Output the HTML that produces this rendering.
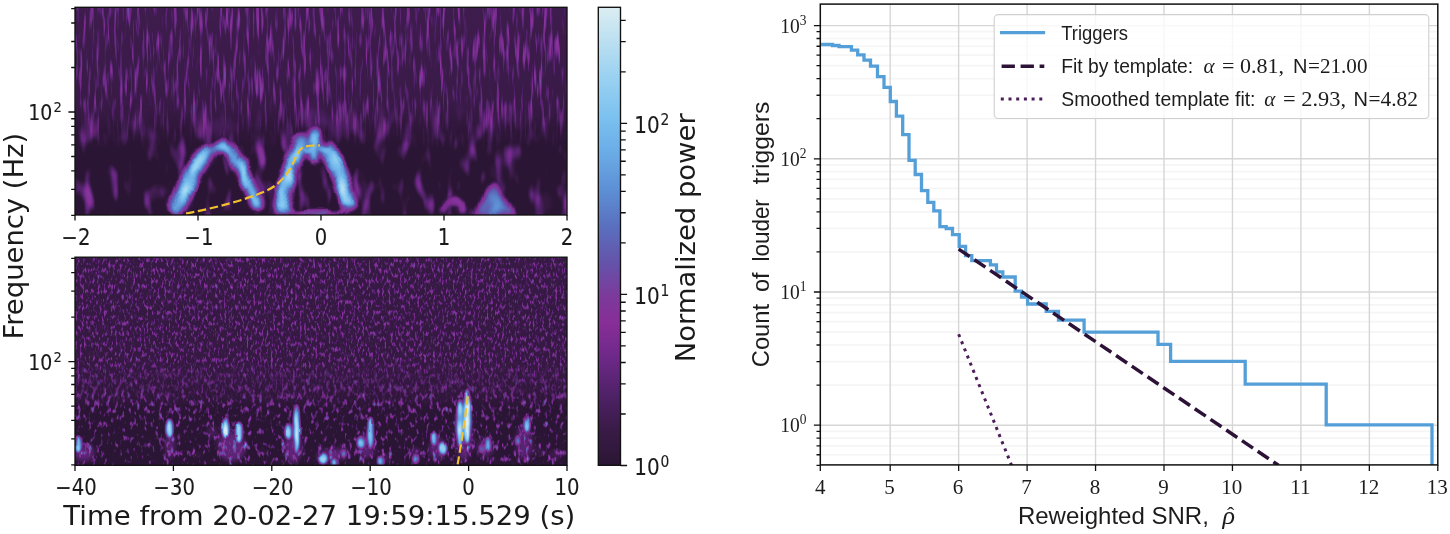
<!DOCTYPE html>
<html lang="en"><head><meta charset="utf-8"><title>Spectrograms and trigger fit</title>
<style>html,body{margin:0;padding:0;background:#fff;overflow:hidden}svg{display:block}</style></head>
<body>
<svg width="1450" height="534" viewBox="0 0 1450 534">
<defs>
<linearGradient id="gC" x1="0" y1="0" x2="0" y2="1"><stop offset="0.000" stop-color="#dbedf1"/><stop offset="0.070" stop-color="#bde0f1"/><stop offset="0.150" stop-color="#9bd2f1"/><stop offset="0.240" stop-color="#7cc1ef"/><stop offset="0.320" stop-color="#6aabe6"/><stop offset="0.400" stop-color="#5d8fd4"/><stop offset="0.480" stop-color="#5a6fbe"/><stop offset="0.560" stop-color="#6552a9"/><stop offset="0.630" stop-color="#7c3a9b"/><stop offset="0.690" stop-color="#872e97"/><stop offset="0.760" stop-color="#6f2989"/><stop offset="0.840" stop-color="#51226a"/><stop offset="0.920" stop-color="#3a1b48"/><stop offset="1.000" stop-color="#2b1634"/></linearGradient>
<filter id="fTU" x="0" y="0" width="1" height="1" filterUnits="objectBoundingBox" color-interpolation-filters="sRGB">
<feTurbulence type="fractalNoise" baseFrequency="0.3 0.03" numOctaves="2" seed="7" result="n"/>
<feColorMatrix in="n" type="matrix" values="0.92 0 0 0 -0.46  0.92 0 0 0 -0.46  0.92 0 0 0 -0.46  0 0 0 0 1" result="g"/>
<feComposite in="g" in2="SourceGraphic" operator="arithmetic" k1="0" k2="1" k3="1" k4="-0.15" result="s"/>
<feComponentTransfer in="s"><feFuncR type="table" tableValues="0.169 0.192 0.215 0.243 0.278 0.313 0.358 0.404 0.449 0.491 0.528 0.505 0.480 0.440 0.399 0.381 0.364 0.355 0.359 0.364 0.381 0.401 0.422 0.450 0.477 0.515 0.557 0.599 0.650 0.702 0.754 0.806 0.859"/><feFuncG type="table" tableValues="0.086 0.094 0.102 0.111 0.121 0.132 0.143 0.153 0.164 0.172 0.182 0.207 0.234 0.276 0.318 0.362 0.407 0.453 0.502 0.551 0.595 0.638 0.679 0.712 0.746 0.773 0.796 0.819 0.841 0.862 0.884 0.907 0.929"/><feFuncB type="table" tableValues="0.204 0.235 0.265 0.305 0.357 0.409 0.457 0.505 0.545 0.570 0.593 0.601 0.612 0.636 0.661 0.692 0.725 0.757 0.791 0.825 0.853 0.881 0.905 0.919 0.933 0.939 0.942 0.945 0.945 0.945 0.945 0.945 0.945"/><feFuncA type="linear" slope="0" intercept="1"/></feComponentTransfer>
</filter>
<filter id="fTL" x="0" y="0" width="1" height="1" filterUnits="objectBoundingBox" color-interpolation-filters="sRGB">
<feTurbulence type="fractalNoise" baseFrequency="0.075 0.028" numOctaves="2" seed="3" result="n"/>
<feColorMatrix in="n" type="matrix" values="1.15 0 0 0 -0.575  1.15 0 0 0 -0.575  1.15 0 0 0 -0.575  0 0 0 0 1" result="g"/>
<feComposite in="g" in2="SourceGraphic" operator="arithmetic" k1="0" k2="1" k3="1" k4="-0.15" result="s"/>
<feComponentTransfer in="s"><feFuncR type="table" tableValues="0.169 0.192 0.215 0.243 0.278 0.313 0.358 0.404 0.449 0.491 0.528 0.505 0.480 0.440 0.399 0.381 0.364 0.355 0.359 0.364 0.381 0.401 0.422 0.450 0.477 0.515 0.557 0.599 0.650 0.702 0.754 0.806 0.859"/><feFuncG type="table" tableValues="0.086 0.094 0.102 0.111 0.121 0.132 0.143 0.153 0.164 0.172 0.182 0.207 0.234 0.276 0.318 0.362 0.407 0.453 0.502 0.551 0.595 0.638 0.679 0.712 0.746 0.773 0.796 0.819 0.841 0.862 0.884 0.907 0.929"/><feFuncB type="table" tableValues="0.204 0.235 0.265 0.305 0.357 0.409 0.457 0.505 0.545 0.570 0.593 0.601 0.612 0.636 0.661 0.692 0.725 0.757 0.791 0.825 0.853 0.881 0.905 0.919 0.933 0.939 0.942 0.945 0.945 0.945 0.945 0.945 0.945"/><feFuncA type="linear" slope="0" intercept="1"/></feComponentTransfer>
</filter>
<filter id="fBU" x="0" y="0" width="1" height="1" filterUnits="objectBoundingBox" color-interpolation-filters="sRGB">
<feTurbulence type="fractalNoise" baseFrequency="0.45 0.19" numOctaves="2" seed="11" result="n"/>
<feColorMatrix in="n" type="matrix" values="1.0 0 0 0 -0.5  1.0 0 0 0 -0.5  1.0 0 0 0 -0.5  0 0 0 0 1" result="g"/>
<feComposite in="g" in2="SourceGraphic" operator="arithmetic" k1="0" k2="1" k3="1" k4="-0.15" result="s"/>
<feComponentTransfer in="s"><feFuncR type="table" tableValues="0.169 0.192 0.215 0.243 0.278 0.313 0.358 0.404 0.449 0.491 0.528 0.505 0.480 0.440 0.399 0.381 0.364 0.355 0.359 0.364 0.381 0.401 0.422 0.450 0.477 0.515 0.557 0.599 0.650 0.702 0.754 0.806 0.859"/><feFuncG type="table" tableValues="0.086 0.094 0.102 0.111 0.121 0.132 0.143 0.153 0.164 0.172 0.182 0.207 0.234 0.276 0.318 0.362 0.407 0.453 0.502 0.551 0.595 0.638 0.679 0.712 0.746 0.773 0.796 0.819 0.841 0.862 0.884 0.907 0.929"/><feFuncB type="table" tableValues="0.204 0.235 0.265 0.305 0.357 0.409 0.457 0.505 0.545 0.570 0.593 0.601 0.612 0.636 0.661 0.692 0.725 0.757 0.791 0.825 0.853 0.881 0.905 0.919 0.933 0.939 0.942 0.945 0.945 0.945 0.945 0.945 0.945"/><feFuncA type="linear" slope="0" intercept="1"/></feComponentTransfer>
</filter>
<filter id="fBL" x="0" y="0" width="1" height="1" filterUnits="objectBoundingBox" color-interpolation-filters="sRGB">
<feTurbulence type="fractalNoise" baseFrequency="0.27 0.14" numOctaves="2" seed="5" result="n"/>
<feColorMatrix in="n" type="matrix" values="1.45 0 0 0 -0.725  1.45 0 0 0 -0.725  1.45 0 0 0 -0.725  0 0 0 0 1" result="g"/>
<feComposite in="g" in2="SourceGraphic" operator="arithmetic" k1="0" k2="1" k3="1" k4="-0.15" result="s"/>
<feComponentTransfer in="s"><feFuncR type="table" tableValues="0.169 0.192 0.215 0.243 0.278 0.313 0.358 0.404 0.449 0.491 0.528 0.505 0.480 0.440 0.399 0.381 0.364 0.355 0.359 0.364 0.381 0.401 0.422 0.450 0.477 0.515 0.557 0.599 0.650 0.702 0.754 0.806 0.859"/><feFuncG type="table" tableValues="0.086 0.094 0.102 0.111 0.121 0.132 0.143 0.153 0.164 0.172 0.182 0.207 0.234 0.276 0.318 0.362 0.407 0.453 0.502 0.551 0.595 0.638 0.679 0.712 0.746 0.773 0.796 0.819 0.841 0.862 0.884 0.907 0.929"/><feFuncB type="table" tableValues="0.204 0.235 0.265 0.305 0.357 0.409 0.457 0.505 0.545 0.570 0.593 0.601 0.612 0.636 0.661 0.692 0.725 0.757 0.791 0.825 0.853 0.881 0.905 0.919 0.933 0.939 0.942 0.945 0.945 0.945 0.945 0.945 0.945"/><feFuncA type="linear" slope="0" intercept="1"/></feComponentTransfer>
</filter>
<linearGradient id="gTU" x1="0" y1="0" x2="0" y2="1"><stop offset="0" stop-color="#3e3e3e"/><stop offset="0.5" stop-color="#393939"/><stop offset="1" stop-color="#212121"/></linearGradient>
<linearGradient id="gTL" x1="0" y1="0" x2="0" y2="1"><stop offset="0.4" stop-color="#2e2e2e"/><stop offset="0.7" stop-color="#1f1f1f"/><stop offset="1" stop-color="#171717"/></linearGradient>
<linearGradient id="gBU" x1="0" y1="0" x2="0" y2="1"><stop offset="0" stop-color="#363636"/><stop offset="0.6" stop-color="#343434"/><stop offset="1" stop-color="#262626"/></linearGradient>
<linearGradient id="gBL" x1="0" y1="0" x2="0" y2="1"><stop offset="0.45" stop-color="#333333"/><stop offset="0.70" stop-color="#2b2b2b"/><stop offset="0.82" stop-color="#0f0f0f"/><stop offset="1" stop-color="#050505"/></linearGradient>
<linearGradient id="mTg" x1="0" y1="0" x2="0" y2="1"><stop offset="0.46" stop-color="#000"/><stop offset="0.68" stop-color="#fff"/></linearGradient>
<linearGradient id="mBg" x1="0" y1="0" x2="0" y2="1"><stop offset="0.5" stop-color="#000"/><stop offset="0.72" stop-color="#fff"/></linearGradient>
<mask id="mT" maskUnits="userSpaceOnUse" x="75.0" y="7.3" width="492.0" height="207.7"><rect x="75.0" y="7.3" width="492.0" height="207.7" fill="url(#mTg)"/></mask>
<mask id="mB" maskUnits="userSpaceOnUse" x="75.0" y="257.2" width="492.0" height="208.10000000000002"><rect x="75.0" y="257.2" width="492.0" height="208.10000000000002" fill="url(#mBg)"/></mask>
<filter id="b2" filterUnits="userSpaceOnUse" x="0" y="0" width="1450" height="534"><feGaussianBlur stdDeviation="2.2"/></filter>
<filter id="b3" filterUnits="userSpaceOnUse" x="0" y="0" width="1450" height="534"><feGaussianBlur stdDeviation="3.5"/></filter>
<filter id="b25" filterUnits="userSpaceOnUse" x="0" y="0" width="1450" height="534"><feGaussianBlur stdDeviation="2.7"/></filter>
<filter id="b15" filterUnits="userSpaceOnUse" x="0" y="0" width="1450" height="534"><feGaussianBlur stdDeviation="1.6"/></filter>
<filter id="b1" filterUnits="userSpaceOnUse" x="0" y="0" width="1450" height="534"><feGaussianBlur stdDeviation="1.1"/></filter>
<clipPath id="cT"><rect x="75.0" y="7.3" width="492.0" height="207.7"/></clipPath>
<clipPath id="cB"><rect x="75.0" y="257.2" width="492.0" height="208.10000000000002"/></clipPath>
<clipPath id="cR"><rect x="820.3" y="4.1" width="617.5" height="460.79999999999995"/></clipPath>
</defs>
<rect width="1450" height="534" fill="#fff"/>
<defs>
<filter id="fOT" filterUnits="userSpaceOnUse" x="75.0" y="7.3" width="492.0" height="207.7" color-interpolation-filters="sRGB">
<feTurbulence type="fractalNoise" baseFrequency="0.08 0.06" numOctaves="1" seed="21" result="n0"/>
<feColorMatrix in="n0" type="matrix" values="1 0 0 0 0  0 1 0 0 0  0 0 1 0 0  0 0 0 0 1" result="n"/>
<feDisplacementMap in="SourceGraphic" in2="n" scale="8" xChannelSelector="R" yChannelSelector="G" result="d"/>
<feColorMatrix in="d" type="matrix" values="0 0 0 1 0  0 0 0 1 0  0 0 0 1 0  0 0 0 0 1" result="s"/>
<feColorMatrix in="n" type="matrix" values="0 0 1 0 0  0 0 1 0 0  0 0 1 0 0  0 0 0 0 1" result="nb"/>
<feComposite in="s" in2="nb" operator="arithmetic" k1="0.7" k2="0.65" k3="0" k4="0" result="s2"/>
<feComponentTransfer in="s2" result="c"><feFuncR type="table" tableValues="0.169 0.192 0.215 0.243 0.278 0.313 0.358 0.404 0.449 0.491 0.528 0.505 0.480 0.440 0.399 0.381 0.364 0.355 0.359 0.364 0.381 0.401 0.422 0.450 0.477 0.515 0.557 0.599 0.650 0.702 0.754 0.806 0.859"/><feFuncG type="table" tableValues="0.086 0.094 0.102 0.111 0.121 0.132 0.143 0.153 0.164 0.172 0.182 0.207 0.234 0.276 0.318 0.362 0.407 0.453 0.502 0.551 0.595 0.638 0.679 0.712 0.746 0.773 0.796 0.819 0.841 0.862 0.884 0.907 0.929"/><feFuncB type="table" tableValues="0.204 0.235 0.265 0.305 0.357 0.409 0.457 0.505 0.545 0.570 0.593 0.601 0.612 0.636 0.661 0.692 0.725 0.757 0.791 0.825 0.853 0.881 0.905 0.919 0.933 0.939 0.942 0.945 0.945 0.945 0.945 0.945 0.945"/></feComponentTransfer>
<feColorMatrix in="s2" type="matrix" values="0 0 0 0 0  0 0 0 0 0  0 0 0 0 0  5.5 0 0 0 -0.38" result="a"/>
<feComposite in="c" in2="a" operator="in"/>
</filter>
<filter id="fOB" filterUnits="userSpaceOnUse" x="75.0" y="257.2" width="492.0" height="208.10000000000002" color-interpolation-filters="sRGB">
<feTurbulence type="fractalNoise" baseFrequency="0.2 0.08" numOctaves="1" seed="9" result="n0"/>
<feColorMatrix in="n0" type="matrix" values="1 0 0 0 0  0 1 0 0 0  0 0 1 0 0  0 0 0 0 1" result="n"/>
<feDisplacementMap in="SourceGraphic" in2="n" scale="2.5" xChannelSelector="R" yChannelSelector="G" result="d"/>
<feColorMatrix in="d" type="matrix" values="0 0 0 1 0  0 0 0 1 0  0 0 0 1 0  0 0 0 0 1" result="s"/>
<feColorMatrix in="n" type="matrix" values="0 0 1 0 0  0 0 1 0 0  0 0 1 0 0  0 0 0 0 1" result="nb"/>
<feComposite in="s" in2="nb" operator="arithmetic" k1="0.7" k2="0.65" k3="0" k4="0" result="s2"/>
<feComponentTransfer in="s2" result="c"><feFuncR type="table" tableValues="0.169 0.192 0.215 0.243 0.278 0.313 0.358 0.404 0.449 0.491 0.528 0.505 0.480 0.440 0.399 0.381 0.364 0.355 0.359 0.364 0.381 0.401 0.422 0.450 0.477 0.515 0.557 0.599 0.650 0.702 0.754 0.806 0.859"/><feFuncG type="table" tableValues="0.086 0.094 0.102 0.111 0.121 0.132 0.143 0.153 0.164 0.172 0.182 0.207 0.234 0.276 0.318 0.362 0.407 0.453 0.502 0.551 0.595 0.638 0.679 0.712 0.746 0.773 0.796 0.819 0.841 0.862 0.884 0.907 0.929"/><feFuncB type="table" tableValues="0.204 0.235 0.265 0.305 0.357 0.409 0.457 0.505 0.545 0.570 0.593 0.601 0.612 0.636 0.661 0.692 0.725 0.757 0.791 0.825 0.853 0.881 0.905 0.919 0.933 0.939 0.942 0.945 0.945 0.945 0.945 0.945 0.945"/></feComponentTransfer>
<feColorMatrix in="s2" type="matrix" values="0 0 0 0 0  0 0 0 0 0  0 0 0 0 0  5.5 0 0 0 -0.38" result="a"/>
<feComposite in="c" in2="a" operator="in"/>
</filter>
</defs>
<g clip-path="url(#cT)">
<defs><g id="blT">
<ellipse cx="452" cy="200" rx="9" ry="9" fill="#fff" fill-opacity="0.12" filter="url(#b3)"/>
<ellipse cx="545" cy="203" rx="9" ry="12" fill="#fff" fill-opacity="0.12" filter="url(#b3)"/>
<ellipse cx="88" cy="195" rx="7" ry="12" fill="#fff" fill-opacity="0.1" filter="url(#b3)"/>
<ellipse cx="222" cy="128" rx="14" ry="10" fill="#fff" fill-opacity="0.1" filter="url(#b3)"/>
<ellipse cx="312" cy="118" rx="14" ry="10" fill="#fff" fill-opacity="0.1" filter="url(#b3)"/>
<ellipse cx="165" cy="196" rx="8" ry="10" fill="#fff" fill-opacity="0.08" filter="url(#b3)"/>
<ellipse cx="268" cy="190" rx="6" ry="12" fill="#fff" fill-opacity="0.08" filter="url(#b3)"/>
<ellipse cx="360" cy="180" rx="7" ry="14" fill="#fff" fill-opacity="0.08" filter="url(#b3)"/>
<ellipse cx="494" cy="172" rx="6" ry="10" fill="#fff" fill-opacity="0.1" filter="url(#b3)"/>
</g></defs>
<g filter="url(#fTU)">
<rect x="75.0" y="7.3" width="492.0" height="207.7" fill="url(#gTU)"/>
<use href="#blT"/>
</g>
<g mask="url(#mT)"><g filter="url(#fTL)">
<rect x="75.0" y="7.3" width="492.0" height="207.7" fill="url(#gTL)"/>
<use href="#blT"/>
</g></g>
<g filter="url(#fOT)">
<path d="M178,207 C182,195 188,183 192,176 C196,168 200,161 204,156" fill="none" stroke="#fff" stroke-linecap="round" stroke-linejoin="round" stroke-width="16.9" stroke-opacity="0.706" filter="url(#b3)"/>
<path d="M178,207 C182,195 188,183 192,176 C196,168 200,161 204,156" fill="none" stroke="#fff" stroke-linecap="round" stroke-linejoin="round" stroke-width="5.2" stroke-opacity="0.353" filter="url(#b2)"/>
<path d="M209,152 C213,149 217,147 221,146" fill="none" stroke="#fff" stroke-linecap="round" stroke-linejoin="round" stroke-width="9.1" stroke-opacity="0.462" filter="url(#b3)"/>
<path d="M209,152 C213,149 217,147 221,146" fill="none" stroke="#fff" stroke-linecap="round" stroke-linejoin="round" stroke-width="2.8" stroke-opacity="0.231" filter="url(#b2)"/>
<path d="M224,146 C231,150 237,159 241,167 C246,177 252,191 257,203" fill="none" stroke="#fff" stroke-linecap="round" stroke-linejoin="round" stroke-width="13.7" stroke-opacity="0.638" filter="url(#b3)"/>
<path d="M224,146 C231,150 237,159 241,167 C246,177 252,191 257,203" fill="none" stroke="#fff" stroke-linecap="round" stroke-linejoin="round" stroke-width="4.2" stroke-opacity="0.319" filter="url(#b2)"/>
<path d="M281.5,208 C283,196 286,181 289.5,171 C292,163 296,153 300.5,141" fill="none" stroke="#fff" stroke-linecap="round" stroke-linejoin="round" stroke-width="15.0" stroke-opacity="0.706" filter="url(#b3)"/>
<path d="M281.5,208 C283,196 286,181 289.5,171 C292,163 296,153 300.5,141" fill="none" stroke="#fff" stroke-linecap="round" stroke-linejoin="round" stroke-width="4.6" stroke-opacity="0.353" filter="url(#b2)"/>
<path d="M314,133 L314.5,158" fill="none" stroke="#fff" stroke-linecap="round" stroke-linejoin="round" stroke-width="11.1" stroke-opacity="0.706" filter="url(#b3)"/>
<path d="M314,133 L314.5,158" fill="none" stroke="#fff" stroke-linecap="round" stroke-linejoin="round" stroke-width="3.4" stroke-opacity="0.353" filter="url(#b2)"/>
<path d="M305,150 L311,150" fill="none" stroke="#fff" stroke-linecap="round" stroke-linejoin="round" stroke-width="5.0" stroke-opacity="0.450" filter="url(#b2)"/>
<path d="M329,150 C332,157 334,162 336.5,168 C340,177 344,188 347,196 L349,203" fill="none" stroke="#fff" stroke-linecap="round" stroke-linejoin="round" stroke-width="15.6" stroke-opacity="0.706" filter="url(#b3)"/>
<path d="M329,150 C332,157 334,162 336.5,168 C340,177 344,188 347,196 L349,203" fill="none" stroke="#fff" stroke-linecap="round" stroke-linejoin="round" stroke-width="4.8" stroke-opacity="0.353" filter="url(#b2)"/>
<path d="M321,149 L326,151" fill="none" stroke="#fff" stroke-linecap="round" stroke-linejoin="round" stroke-width="5.0" stroke-opacity="0.450" filter="url(#b2)"/>
<path d="M286,212.5 L347,212.5" fill="none" stroke="#fff" stroke-linecap="round" stroke-linejoin="round" stroke-width="4.0" stroke-opacity="0.450" filter="url(#b2)"/>
<path d="M300,214 L330,214" fill="none" stroke="#fff" stroke-linecap="round" stroke-linejoin="round" stroke-width="3.0" stroke-opacity="0.450" filter="url(#b2)"/>
<path d="M472,217 L494.5,180 L517,217 Z" fill="#fff" fill-opacity="0.57" filter="url(#b3)"/>
<path d="M444,212 C446,198 458,196 462,206 L464,213" fill="none" stroke="#fff" stroke-opacity="0.5" stroke-width="6" stroke-linecap="round" filter="url(#b3)"/>
</g>
<path d="M186,213.6 C215,208 245,200 265.3,191.3 C277,186 285,178 292,165.6 C296,157 298,150 303.4,147 C308,145.5 314,145.5 319.9,145.4" fill="none" stroke="#f2c12e" stroke-width="2.2" stroke-dasharray="8.5 3.6"/>
</g>
<g clip-path="url(#cB)">
<defs><g id="blB">
<ellipse cx="84" cy="453" rx="13" ry="11" fill="#fff" fill-opacity="0.32" filter="url(#b3)"/>
<ellipse cx="170" cy="446" rx="7" ry="17" fill="#fff" fill-opacity="0.3" filter="url(#b3)"/>
<ellipse cx="232" cy="447" rx="16" ry="17" fill="#fff" fill-opacity="0.32" filter="url(#b3)"/>
<ellipse cx="212" cy="432" rx="7" ry="9" fill="#fff" fill-opacity="0.24" filter="url(#b3)"/>
<ellipse cx="293" cy="448" rx="11" ry="18" fill="#fff" fill-opacity="0.32" filter="url(#b3)"/>
<ellipse cx="325" cy="456" rx="11" ry="9" fill="#fff" fill-opacity="0.3" filter="url(#b3)"/>
<ellipse cx="366" cy="446" rx="11" ry="15" fill="#fff" fill-opacity="0.31" filter="url(#b3)"/>
<ellipse cx="341" cy="454" rx="11" ry="9" fill="#fff" fill-opacity="0.28" filter="url(#b3)"/>
<ellipse cx="438" cy="449" rx="11" ry="13" fill="#fff" fill-opacity="0.31" filter="url(#b3)"/>
<ellipse cx="415" cy="454" rx="8" ry="9" fill="#fff" fill-opacity="0.28" filter="url(#b3)"/>
<ellipse cx="464" cy="436" rx="10" ry="28" fill="#fff" fill-opacity="0.32" filter="url(#b3)"/>
<ellipse cx="486" cy="448" rx="10" ry="11" fill="#fff" fill-opacity="0.3" filter="url(#b3)"/>
<ellipse cx="524" cy="443" rx="10" ry="20" fill="#fff" fill-opacity="0.3" filter="url(#b3)"/>
<ellipse cx="556" cy="455" rx="9" ry="8" fill="#fff" fill-opacity="0.23" filter="url(#b3)"/>
<ellipse cx="385" cy="458" rx="8" ry="7" fill="#fff" fill-opacity="0.26" filter="url(#b3)"/>
<ellipse cx="198" cy="455" rx="8" ry="6" fill="#fff" fill-opacity="0.2" filter="url(#b3)"/>
<ellipse cx="262" cy="452" rx="7" ry="7" fill="#fff" fill-opacity="0.18" filter="url(#b3)"/>
<ellipse cx="505" cy="458" rx="7" ry="5" fill="#fff" fill-opacity="0.2" filter="url(#b3)"/>
<ellipse cx="540" cy="452" rx="6" ry="8" fill="#fff" fill-opacity="0.2" filter="url(#b3)"/>
</g></defs>
<g filter="url(#fBU)">
<rect x="75.0" y="257.2" width="492.0" height="208.10000000000002" fill="url(#gBU)"/>
<use href="#blB"/>
</g>
<g mask="url(#mB)"><g filter="url(#fBL)">
<rect x="75.0" y="257.2" width="492.0" height="208.10000000000002" fill="url(#gBL)"/>
<use href="#blB"/>
</g></g>
<g filter="url(#fOB)">
<ellipse cx="78.2" cy="444.5" rx="3.8" ry="9.0" fill="#fff" fill-opacity="0.71" filter="url(#b15)"/>
<ellipse cx="78.2" cy="445.0" rx="1.7" ry="5.5" fill="#fff" fill-opacity="0.56" filter="url(#b1)"/>
<ellipse cx="169.5" cy="428.5" rx="3.8" ry="10.0" fill="#fff" fill-opacity="0.76" filter="url(#b15)"/>
<ellipse cx="169.5" cy="429.0" rx="1.7" ry="6.5" fill="#fff" fill-opacity="0.60" filter="url(#b1)"/>
<ellipse cx="225.5" cy="428.5" rx="3.8" ry="11.0" fill="#fff" fill-opacity="0.76" filter="url(#b15)"/>
<ellipse cx="225.5" cy="429.0" rx="1.7" ry="7.5" fill="#fff" fill-opacity="0.60" filter="url(#b1)"/>
<ellipse cx="239" cy="432.5" rx="3.8" ry="11.0" fill="#fff" fill-opacity="0.76" filter="url(#b15)"/>
<ellipse cx="239" cy="433.0" rx="1.7" ry="7.5" fill="#fff" fill-opacity="0.60" filter="url(#b1)"/>
<ellipse cx="288.4" cy="432.0" rx="3.8" ry="8.5" fill="#fff" fill-opacity="0.66" filter="url(#b15)"/>
<ellipse cx="288.4" cy="432.5" rx="1.7" ry="5.0" fill="#fff" fill-opacity="0.52" filter="url(#b1)"/>
<ellipse cx="296.6" cy="429.0" rx="3.3" ry="25.5" fill="#fff" fill-opacity="0.76" filter="url(#b15)"/>
<ellipse cx="296.6" cy="429.5" rx="1.2" ry="22.0" fill="#fff" fill-opacity="0.60" filter="url(#b1)"/>
<ellipse cx="323" cy="458.5" rx="4.8" ry="6.0" fill="#fff" fill-opacity="0.76" filter="url(#b15)"/>
<ellipse cx="323" cy="459.0" rx="2.7" ry="2.5" fill="#fff" fill-opacity="0.60" filter="url(#b1)"/>
<ellipse cx="334.4" cy="462.0" rx="3.8" ry="4.5" fill="#fff" fill-opacity="0.57" filter="url(#b15)"/>
<ellipse cx="334.4" cy="462.5" rx="1.7" ry="2.0" fill="#fff" fill-opacity="0.45" filter="url(#b1)"/>
<ellipse cx="343.7" cy="453.5" rx="3.3" ry="5.0" fill="#fff" fill-opacity="0.43" filter="url(#b15)"/>
<ellipse cx="343.7" cy="454.0" rx="1.2" ry="2.0" fill="#fff" fill-opacity="0.34" filter="url(#b1)"/>
<ellipse cx="361.2" cy="442.5" rx="4.3" ry="7.0" fill="#fff" fill-opacity="0.57" filter="url(#b15)"/>
<ellipse cx="361.2" cy="443.0" rx="2.2" ry="3.5" fill="#fff" fill-opacity="0.45" filter="url(#b1)"/>
<ellipse cx="370.5" cy="433.0" rx="3.3" ry="16.5" fill="#fff" fill-opacity="0.71" filter="url(#b15)"/>
<ellipse cx="370.5" cy="433.5" rx="1.2" ry="13.0" fill="#fff" fill-opacity="0.56" filter="url(#b1)"/>
<ellipse cx="380.8" cy="461.0" rx="3.8" ry="5.5" fill="#fff" fill-opacity="0.62" filter="url(#b15)"/>
<ellipse cx="380.8" cy="461.5" rx="1.7" ry="2.0" fill="#fff" fill-opacity="0.49" filter="url(#b1)"/>
<ellipse cx="415.8" cy="459.0" rx="3.8" ry="5.5" fill="#fff" fill-opacity="0.47" filter="url(#b15)"/>
<ellipse cx="415.8" cy="459.5" rx="1.7" ry="2.0" fill="#fff" fill-opacity="0.38" filter="url(#b1)"/>
<ellipse cx="433.9" cy="438.5" rx="3.3" ry="8.0" fill="#fff" fill-opacity="0.62" filter="url(#b15)"/>
<ellipse cx="433.9" cy="439.0" rx="1.2" ry="4.5" fill="#fff" fill-opacity="0.49" filter="url(#b1)"/>
<ellipse cx="442.6" cy="448.5" rx="4.3" ry="7.0" fill="#fff" fill-opacity="0.76" filter="url(#b15)"/>
<ellipse cx="442.6" cy="449.0" rx="2.2" ry="3.5" fill="#fff" fill-opacity="0.60" filter="url(#b1)"/>
<ellipse cx="460" cy="423.5" rx="3.3" ry="25.0" fill="#fff" fill-opacity="0.66" filter="url(#b15)"/>
<ellipse cx="460" cy="424.0" rx="1.2" ry="21.5" fill="#fff" fill-opacity="0.52" filter="url(#b1)"/>
<ellipse cx="467.3" cy="416.5" rx="3.5" ry="28.0" fill="#fff" fill-opacity="0.81" filter="url(#b15)"/>
<ellipse cx="467.3" cy="417.0" rx="1.4" ry="24.5" fill="#fff" fill-opacity="0.64" filter="url(#b1)"/>
<ellipse cx="487.9" cy="444.5" rx="3.3" ry="8.0" fill="#fff" fill-opacity="0.62" filter="url(#b15)"/>
<ellipse cx="487.9" cy="445.0" rx="1.2" ry="4.5" fill="#fff" fill-opacity="0.49" filter="url(#b1)"/>
<ellipse cx="481.7" cy="449.0" rx="3.3" ry="5.5" fill="#fff" fill-opacity="0.43" filter="url(#b15)"/>
<ellipse cx="481.7" cy="449.5" rx="1.2" ry="2.0" fill="#fff" fill-opacity="0.34" filter="url(#b1)"/>
<ellipse cx="527" cy="424.5" rx="3.3" ry="9.0" fill="#fff" fill-opacity="0.71" filter="url(#b15)"/>
<ellipse cx="527" cy="425.0" rx="1.2" ry="5.5" fill="#fff" fill-opacity="0.56" filter="url(#b1)"/>
<ellipse cx="517.8" cy="440.5" rx="3.3" ry="6.0" fill="#fff" fill-opacity="0.43" filter="url(#b15)"/>
<ellipse cx="517.8" cy="441.0" rx="1.2" ry="2.5" fill="#fff" fill-opacity="0.34" filter="url(#b1)"/>
<ellipse cx="463.5" cy="424" rx="6" ry="22" fill="#fff" fill-opacity="0.45" filter="url(#b3)"/>
</g>
<path d="M457.6,464.5 C461,445 465,420 467.9,395" fill="none" stroke="#f2c12e" stroke-width="2.2" stroke-dasharray="8.5 3.6"/>
</g>
<rect x="75.0" y="7.3" width="492.0" height="207.7" fill="none" stroke="#111" stroke-width="1.35"/>
<rect x="75.0" y="257.2" width="492.0" height="208.10000000000002" fill="none" stroke="#111" stroke-width="1.35"/>
<g style="font-family:'DejaVu Sans','Liberation Sans',sans-serif;font-size:22.2px" fill="#1a1a1a" stroke="#1a1a1a" stroke-width="0.12">
<text transform="translate(75.90,244.7) scale(0.885,1)" text-anchor="middle">−2</text>
<text transform="translate(198.90,244.7) scale(0.885,1)" text-anchor="middle">−1</text>
<text transform="translate(321.00,244.7) scale(0.885,1)" text-anchor="middle">0</text>
<text transform="translate(444.00,244.7) scale(0.885,1)" text-anchor="middle">1</text>
<text transform="translate(567.00,244.7) scale(0.885,1)" text-anchor="middle">2</text>
<text transform="translate(75.90,494.6) scale(0.885,1)" text-anchor="middle">−40</text>
<text transform="translate(174.30,494.6) scale(0.885,1)" text-anchor="middle">−30</text>
<text transform="translate(272.70,494.6) scale(0.885,1)" text-anchor="middle">−20</text>
<text transform="translate(371.10,494.6) scale(0.885,1)" text-anchor="middle">−10</text>
<text transform="translate(468.60,494.6) scale(0.885,1)" text-anchor="middle">0</text>
<text transform="translate(567.00,494.6) scale(0.885,1)" text-anchor="middle">10</text>
<text transform="translate(28.3,120.3) scale(0.92,1)" font-size="20.6px">10<tspan dy="-8.0" dx="1.2" font-size="14.3px">2</tspan></text>
<text transform="translate(28.3,369.9) scale(0.92,1)" font-size="20.6px">10<tspan dy="-8.0" dx="1.2" font-size="14.3px">2</tspan></text>
<text transform="translate(634.2,475.3) scale(0.9,1)">10<tspan dy="-8.6" dx="1" font-size="15.4px">0</tspan></text>
<text transform="translate(634.2,304.2) scale(0.9,1)">10<tspan dy="-8.6" dx="1" font-size="15.4px">1</tspan></text>
<text transform="translate(634.2,133.1) scale(0.9,1)">10<tspan dy="-8.6" dx="1" font-size="15.4px">2</tspan></text>
</g>
<path d="M75.00,215.0v5.6M198.00,215.0v5.6M321.00,215.0v5.6M444.00,215.0v5.6M567.00,215.0v5.6M75.00,465.3v5.6M173.40,465.3v5.6M271.80,465.3v5.6M370.20,465.3v5.6M468.60,465.3v5.6M567.00,465.3v5.6M75.0,112.00h-6.6M75.0,215.31h-3.8M75.0,189.28h-3.8M75.0,170.82h-3.8M75.0,156.49h-3.8M75.0,144.79h-3.8M75.0,134.89h-3.8M75.0,126.32h-3.8M75.0,118.76h-3.8M75.0,67.51h-3.8M75.0,41.48h-3.8M75.0,23.02h-3.8M75.0,8.69h-3.8M75.0,361.60h-6.6M75.0,464.91h-3.8M75.0,438.88h-3.8M75.0,420.42h-3.8M75.0,406.09h-3.8M75.0,394.39h-3.8M75.0,384.49h-3.8M75.0,375.92h-3.8M75.0,368.36h-3.8M75.0,317.11h-3.8M75.0,291.08h-3.8M75.0,272.62h-3.8M75.0,258.29h-3.8M620.5,465.50h6.6M620.5,294.40h6.6M620.5,123.30h6.6M620.5,413.99h5.2M620.5,383.86h5.2M620.5,362.49h5.2M620.5,345.91h5.2M620.5,332.36h5.2M620.5,320.90h5.2M620.5,310.98h5.2M620.5,302.23h5.2M620.5,242.89h5.2M620.5,212.76h5.2M620.5,191.39h5.2M620.5,174.81h5.2M620.5,161.26h5.2M620.5,149.80h5.2M620.5,139.88h5.2M620.5,131.13h5.2M620.5,71.79h5.2M620.5,41.66h5.2M620.5,20.29h5.2" fill="none" stroke="#111" stroke-width="1.3"/>
<rect x="598.3" y="7.3" width="22.200000000000045" height="458.0" fill="url(#gC)" stroke="#111" stroke-width="1.35"/>
<g style="font-family:'DejaVu Sans','Liberation Sans',sans-serif;font-size:26px" fill="#1a1a1a">
<text x="63.3" y="525.2" textLength="512" lengthAdjust="spacingAndGlyphs">Time from 20-02-27 19:59:15.529 (s)</text>
<text transform="translate(22.7,339.6) rotate(-90)" textLength="206.8" lengthAdjust="spacingAndGlyphs">Frequency (Hz)</text>
<text transform="translate(695.3,362.3) rotate(-90)" textLength="249" lengthAdjust="spacingAndGlyphs">Normalized power</text>
</g>
<g>
<path d="M820.3,454.75H1437.8M820.3,445.83H1437.8M820.3,438.11H1437.8M820.3,431.29H1437.8M820.3,385.10H1437.8M820.3,361.65H1437.8M820.3,345.01H1437.8M820.3,332.10H1437.8M820.3,321.55H1437.8M820.3,312.63H1437.8M820.3,304.91H1437.8M820.3,298.09H1437.8M820.3,251.90H1437.8M820.3,228.45H1437.8M820.3,211.81H1437.8M820.3,198.90H1437.8M820.3,188.35H1437.8M820.3,179.43H1437.8M820.3,171.71H1437.8M820.3,164.89H1437.8M820.3,118.70H1437.8M820.3,95.25H1437.8M820.3,78.61H1437.8M820.3,65.70H1437.8M820.3,55.15H1437.8M820.3,46.23H1437.8M820.3,38.51H1437.8M820.3,31.69H1437.8" stroke="#f5f5f5" stroke-width="1.7" fill="none"/>
<path d="M820.3,425.20H1437.8M820.3,292.00H1437.8M820.3,158.80H1437.8M820.3,25.60H1437.8M890.20,4.1V464.9M958.65,4.1V464.9M1027.10,4.1V464.9M1095.55,4.1V464.9M1164.00,4.1V464.9M1232.45,4.1V464.9M1300.90,4.1V464.9M1369.35,4.1V464.9" stroke="#d6d6d6" stroke-width="1.4" fill="none"/>
<g clip-path="url(#cR)">
<path d="M821.0999999999999,44.5H832.5V45.5H839V46.7H851.4V50.2H857.7V54.9H864V60.1H870.5V66.1H877.5V76.7H884V87.3H890.3V101.5H896.4V116.1H902.7V134.7H909.0V160.3H915.2V174.5H921.5V190.7H927.8V202.4H933.8V210.9H939.9V226.6H946.2V228.5H952.5V234.7H959.2V246.3H965.6V255.6H971.8V260.6H990.4V264.8H996.5V271.8H1002.8V277.0H1015.2V291.2H1021.5V297.2H1027.6V304.0H1046.2V311.3H1058.5V320.2H1084.1V332.1H1158.0V344.3H1170.6V361.3H1245.2V384.2H1326.2V424.8H1432.0V470" fill="none" stroke="#559fd9" stroke-width="3.3" stroke-linejoin="miter"/>
<path d="M958.65,249.08L1278.45,465.30" stroke="#2d1238" stroke-width="3.5" stroke-dasharray="13.3 5.7" fill="none"/>
<path d="M958.65,334.22L1011.59,465.30" stroke="#4b1c58" stroke-width="3.0" stroke-dasharray="3.0 4.7" fill="none"/>
</g>
<rect x="820.3" y="4.1" width="617.5" height="460.79999999999995" fill="none" stroke="#111" stroke-width="1.5"/>
<path d="M820.30,464.9v6.2M890.20,464.9v6.2M958.65,464.9v6.2M1027.10,464.9v6.2M1095.55,464.9v6.2M1164.00,464.9v6.2M1232.45,464.9v6.2M1300.90,464.9v6.2M1369.35,464.9v6.2M1437.80,464.9v6.2M820.3,425.20h-6.4M820.3,292.00h-6.4M820.3,158.80h-6.4M820.3,25.60h-6.4M820.3,465.30h-3.8M820.3,454.75h-3.8M820.3,445.83h-3.8M820.3,438.11h-3.8M820.3,431.29h-3.8M820.3,385.10h-3.8M820.3,361.65h-3.8M820.3,345.01h-3.8M820.3,332.10h-3.8M820.3,321.55h-3.8M820.3,312.63h-3.8M820.3,304.91h-3.8M820.3,298.09h-3.8M820.3,251.90h-3.8M820.3,228.45h-3.8M820.3,211.81h-3.8M820.3,198.90h-3.8M820.3,188.35h-3.8M820.3,179.43h-3.8M820.3,171.71h-3.8M820.3,164.89h-3.8M820.3,118.70h-3.8M820.3,95.25h-3.8M820.3,78.61h-3.8M820.3,65.70h-3.8M820.3,55.15h-3.8M820.3,46.23h-3.8M820.3,38.51h-3.8M820.3,31.69h-3.8" stroke="#111" stroke-width="1.3" fill="none"/>
<g style="font-family:'Liberation Serif','DejaVu Serif',serif;font-size:21px" fill="#1c1c1c">
<text x="820.35" y="493.6" text-anchor="middle">4</text>
<text x="889.60" y="493.6" text-anchor="middle">5</text>
<text x="958.05" y="493.6" text-anchor="middle">6</text>
<text x="1026.50" y="493.6" text-anchor="middle">7</text>
<text x="1094.95" y="493.6" text-anchor="middle">8</text>
<text x="1163.40" y="493.6" text-anchor="middle">9</text>
<text x="1231.85" y="493.6" text-anchor="middle">10</text>
<text x="1300.30" y="493.6" text-anchor="middle">11</text>
<text x="1368.75" y="493.6" text-anchor="middle">12</text>
<text x="1437.20" y="493.6" text-anchor="middle">13</text>
<text transform="translate(780.2,432.1) scale(0.93,1)" font-size="21px">10<tspan dy="-8.0" font-size="14.5px">0</tspan></text>
<text transform="translate(780.2,298.9) scale(0.93,1)" font-size="21px">10<tspan dy="-8.0" font-size="14.5px">1</tspan></text>
<text transform="translate(780.2,165.7) scale(0.93,1)" font-size="21px">10<tspan dy="-8.0" font-size="14.5px">2</tspan></text>
<text transform="translate(780.2,32.5) scale(0.93,1)" font-size="21px">10<tspan dy="-8.0" font-size="14.5px">3</tspan></text>
</g>
<g style="font-family:'Liberation Sans','DejaVu Sans',sans-serif;font-size:24px" fill="#1c1c1c">
<text x="1017.9" y="524" textLength="191" lengthAdjust="spacingAndGlyphs">Reweighted SNR,</text>
<text x="1222.5" y="524" style="font-family:'Liberation Serif','DejaVu Serif',serif;font-style:italic;font-size:26px">ρ</text>
<text x="1227" y="521.5" style="font-family:'Liberation Serif','DejaVu Serif',serif;font-size:22px">ˆ</text>
<text transform="translate(768.5,367.2) rotate(-90)"><tspan x="0" textLength="63.3" lengthAdjust="spacingAndGlyphs">Count</tspan> <tspan x="75.2" textLength="19.6" lengthAdjust="spacingAndGlyphs">of</tspan> <tspan x="105.8" textLength="62.2" lengthAdjust="spacingAndGlyphs">louder</tspan> <tspan x="183" textLength="82.6" lengthAdjust="spacingAndGlyphs">triggers</tspan></text>
</g>
<rect x="994.2" y="14.6" width="434.6" height="103.9" rx="4" fill="#fff" fill-opacity="0.8" stroke="#cfcfcf" stroke-width="1.1"/>
<path d="M1000,32.6H1045.1" stroke="#559fd9" stroke-width="3.3"/>
<path d="M1001.6,66.2H1044.3" stroke="#2d1238" stroke-width="3.5" stroke-dasharray="13.3 5.7"/>
<path d="M1000.8,99H1045.1" stroke="#4b1c58" stroke-width="3.0" stroke-dasharray="3.0 4.7"/>
<g style="font-family:'Liberation Sans','DejaVu Sans',sans-serif;font-size:20px" fill="#1c1c1c">
<text x="1061.2" y="40.2" textLength="66.9" lengthAdjust="spacingAndGlyphs">Triggers</text>
<text x="1061.2" y="73" textLength="132" lengthAdjust="spacingAndGlyphs">Fit by template:</text>
<text x="1203.5" y="73" style="font-family:'Liberation Serif','DejaVu Serif',serif;font-style:italic;font-size:21px">α</text>
<text x="1222" y="73" style="font-family:'Liberation Serif','DejaVu Serif',serif;font-size:20.5px" textLength="62" lengthAdjust="spacingAndGlyphs">= 0.81,</text>
<text x="1293" y="73">N</text>
<text x="1308" y="73" style="font-family:'Liberation Serif','DejaVu Serif',serif;font-size:20.5px" textLength="59.5" lengthAdjust="spacingAndGlyphs">=21.00</text>
<text x="1061.2" y="105.9" textLength="194.3" lengthAdjust="spacingAndGlyphs">Smoothed template fit:</text>
<text x="1264.3" y="105.9" style="font-family:'Liberation Serif','DejaVu Serif',serif;font-style:italic;font-size:21px">α</text>
<text x="1283" y="105.9" style="font-family:'Liberation Serif','DejaVu Serif',serif;font-size:20.5px" textLength="63" lengthAdjust="spacingAndGlyphs">= 2.93,</text>
<text x="1353.6" y="105.9">N</text>
<text x="1368.5" y="105.9" style="font-family:'Liberation Serif','DejaVu Serif',serif;font-size:20.5px" textLength="49.5" lengthAdjust="spacingAndGlyphs">=4.82</text>
</g>
</g>
</svg>
</body></html>
